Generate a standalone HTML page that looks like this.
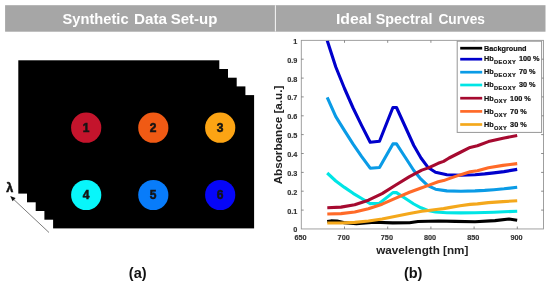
<!DOCTYPE html>
<html><head><meta charset="utf-8"><title>Synthetic data set-up and ideal spectral curves</title>
<style>
html,body{margin:0;padding:0;background:#fff;}
body{width:550px;height:285px;overflow:hidden;font-family:"Liberation Sans",sans-serif;}
svg{display:block;}
text{font-family:"Liberation Sans",sans-serif;font-weight:bold;}
.title{font-size:14.8px;fill:#fff;}
.tick{font-size:7.3px;fill:#333;stroke:#333;stroke-width:0.15px;}
.lg{font-size:7.3px;fill:#111;stroke:#111;stroke-width:0.2px;}
.sb{font-size:5.7px;fill:#111;letter-spacing:0.5px;stroke:#111;stroke-width:0.2px;}
.axl{font-size:11.7px;fill:#222;}
.cap{font-size:14.5px;fill:#111;}
.num{font-size:12px;fill:#141414;stroke:#141414;stroke-width:0.55px;}
.lam{font-size:12.5px;fill:#111;stroke:#111;stroke-width:0.5px;}
</style></head><body>
<svg width="550" height="285" viewBox="0 0 550 285">
<rect width="550" height="285" fill="#fff"/>
<!-- header bar -->
<rect x="5.1" y="5.2" width="540.4" height="26.5" fill="#A6A6A6"/>
<rect x="274.9" y="5.2" width="0.9" height="26.3" fill="#fff"/>
<text class="title" y="24.2"><tspan x="62.6" textLength="66.0" lengthAdjust="spacingAndGlyphs">Synthetic</tspan> <tspan x="134.0" textLength="33.0" lengthAdjust="spacingAndGlyphs">Data</tspan> <tspan x="170.8" textLength="46.6" lengthAdjust="spacingAndGlyphs">Set-up</tspan></text>
<text class="title" y="24.2"><tspan x="335.9" textLength="36.0" lengthAdjust="spacingAndGlyphs">Ideal</tspan> <tspan x="375.8" textLength="56.6" lengthAdjust="spacingAndGlyphs">Spectral</tspan> <tspan x="438.4" textLength="46.6" lengthAdjust="spacingAndGlyphs">Curves</tspan></text>
<!-- left panel -->
<rect x="18.3" y="60.3" width="201" height="133.3" fill="#000"/>
<rect x="27.0" y="69.0" width="201" height="133.3" fill="#000"/>
<rect x="35.7" y="77.7" width="201" height="133.3" fill="#000"/>
<rect x="44.4" y="86.4" width="201" height="133.3" fill="#000"/>
<rect x="53.1" y="95.1" width="201" height="133.3" fill="#000"/>
<circle cx="86.2" cy="127.7" r="15.1" fill="#C4142C"/>
<text class="num" x="86.0" y="131.8" text-anchor="middle">1</text>
<circle cx="153.3" cy="127.7" r="15.1" fill="#F05A14"/>
<text class="num" x="153.1" y="131.8" text-anchor="middle">2</text>
<circle cx="220.2" cy="127.7" r="15.1" fill="#FCA414"/>
<text class="num" x="220.0" y="131.8" text-anchor="middle">3</text>
<circle cx="86.2" cy="195.0" r="15.1" fill="#08F6FA"/>
<text class="num" x="86.0" y="199.1" text-anchor="middle">4</text>
<circle cx="153.3" cy="195.0" r="15.1" fill="#087CFA"/>
<text class="num" x="153.1" y="199.1" text-anchor="middle">5</text>
<circle cx="220.2" cy="195.0" r="15.1" fill="#0606F8"/>
<text class="num" x="220.0" y="199.1" text-anchor="middle">6</text>
<text class="lam" x="6.2" y="191.6">λ</text>
<line x1="49.0" y1="232.5" x2="12.2" y2="198.0" stroke="#444" stroke-width="0.7"/>
<polygon points="10.2,195.9 15.6,198.0 12.6,201.2" fill="#111"/>
<text class="cap" x="137.7" y="278.0" text-anchor="middle">(a)</text>
<!-- chart -->
<g clip-path="url(#cp)">
<polyline points="327.2,221.6 331.0,220.9 337.0,221.0 343.6,222.6 356.4,223.6 374.5,222.3 392.7,222.9 409.5,222.7 418.0,221.5 438.6,221.0 455.0,221.4 475.0,221.8 495.0,220.6 509.0,219.0 517.2,220.2" fill="none" stroke="#000000" stroke-width="3.10" stroke-linejoin="round" stroke-linecap="butt"/>
<polyline points="327.2,40.4 335.8,67.0 344.5,88.5 353.1,108.0 361.7,125.6 370.2,142.3 379.5,141.2 392.9,107.5 396.5,107.5 404.7,125.5 413.8,145.5 421.0,158.0 427.8,167.2 435.5,172.2 446.9,174.7 460.9,175.2 475.0,174.7 484.7,173.9 493.9,172.9 504.0,171.6 517.2,169.4" fill="none" stroke="#0000CC" stroke-width="3.10" stroke-linejoin="round" stroke-linecap="butt"/>
<polyline points="327.2,97.3 335.8,116.6 344.5,130.6 353.1,144.2 361.7,156.6 370.2,168.2 379.5,167.5 392.9,143.9 396.5,143.9 404.7,156.5 413.8,170.5 421.0,179.2 427.8,185.7 435.5,189.2 446.9,190.9 460.9,191.3 475.0,190.9 484.7,190.4 493.9,189.7 504.0,188.8 517.2,187.2" fill="none" stroke="#0A9BE6" stroke-width="3.10" stroke-linejoin="round" stroke-linecap="butt"/>
<polyline points="327.2,173.0 335.8,181.0 344.5,187.4 353.1,193.3 361.7,198.5 370.2,203.6 379.5,203.2 392.9,192.6 396.5,192.6 404.7,198.0 413.8,204.0 421.0,207.8 427.8,210.5 435.5,212.0 446.9,212.8 460.9,212.9 475.0,212.8 484.7,212.5 493.9,212.2 504.0,211.8 517.2,211.2" fill="none" stroke="#00E5E5" stroke-width="3.10" stroke-linejoin="round" stroke-linecap="butt"/>
<polyline points="327.3,207.7 341.0,207.1 354.7,204.8 368.4,200.2 382.1,193.6 395.8,185.0 409.5,176.6 421.8,170.1 428.4,167.9 438.2,163.3 443.6,161.4 449.1,158.0 460.0,152.5 470.1,147.4 477.4,145.8 488.4,141.6 503.0,138.2 517.2,135.6" fill="none" stroke="#A60A30" stroke-width="3.10" stroke-linejoin="round" stroke-linecap="butt"/>
<polyline points="327.3,214.0 341.0,213.6 354.7,212.0 368.4,208.8 382.1,204.2 395.8,198.1 409.5,192.3 421.8,187.7 428.4,185.4 438.2,181.8 443.6,180.6 449.1,178.6 460.0,174.9 470.1,171.8 477.4,170.7 488.4,167.8 503.0,165.4 517.2,163.6" fill="none" stroke="#FF6A28" stroke-width="3.10" stroke-linejoin="round" stroke-linecap="butt"/>
<polyline points="327.3,223.0 341.0,223.0 354.7,222.4 368.4,221.0 382.1,219.0 395.8,216.3 409.5,213.5 421.8,211.2 428.4,210.5 438.2,209.2 443.6,208.6 449.1,207.6 460.0,205.7 470.1,204.4 477.4,203.9 488.4,202.6 503.0,201.6 517.2,200.8" fill="none" stroke="#F4A81C" stroke-width="3.10" stroke-linejoin="round" stroke-linecap="butt"/>
</g>
<clipPath id="cp"><rect x="301.3" y="40.35" width="242.2" height="188.6"/></clipPath>
<rect x="301.3" y="40.35" width="242.2" height="188.6" fill="none" stroke="#969696" stroke-width="0.9"/>
<g stroke="#707070" stroke-width="0.8">
<line x1="301.3" y1="210.1" x2="303.7" y2="210.1"/>
<line x1="543.5" y1="210.1" x2="541.1" y2="210.1"/>
<line x1="301.3" y1="191.2" x2="303.7" y2="191.2"/>
<line x1="543.5" y1="191.2" x2="541.1" y2="191.2"/>
<line x1="301.3" y1="172.4" x2="303.7" y2="172.4"/>
<line x1="543.5" y1="172.4" x2="541.1" y2="172.4"/>
<line x1="301.3" y1="153.5" x2="303.7" y2="153.5"/>
<line x1="543.5" y1="153.5" x2="541.1" y2="153.5"/>
<line x1="301.3" y1="134.6" x2="303.7" y2="134.6"/>
<line x1="543.5" y1="134.6" x2="541.1" y2="134.6"/>
<line x1="301.3" y1="115.8" x2="303.7" y2="115.8"/>
<line x1="543.5" y1="115.8" x2="541.1" y2="115.8"/>
<line x1="301.3" y1="96.9" x2="303.7" y2="96.9"/>
<line x1="543.5" y1="96.9" x2="541.1" y2="96.9"/>
<line x1="301.3" y1="78.1" x2="303.7" y2="78.1"/>
<line x1="543.5" y1="78.1" x2="541.1" y2="78.1"/>
<line x1="301.3" y1="59.2" x2="303.7" y2="59.2"/>
<line x1="543.5" y1="59.2" x2="541.1" y2="59.2"/>
<line x1="344.5" y1="228.9" x2="344.5" y2="226.5"/>
<line x1="344.5" y1="40.4" x2="344.5" y2="42.8"/>
<line x1="387.7" y1="228.9" x2="387.7" y2="226.5"/>
<line x1="387.7" y1="40.4" x2="387.7" y2="42.8"/>
<line x1="430.9" y1="228.9" x2="430.9" y2="226.5"/>
<line x1="430.9" y1="40.4" x2="430.9" y2="42.8"/>
<line x1="474.1" y1="228.9" x2="474.1" y2="226.5"/>
<line x1="474.1" y1="40.4" x2="474.1" y2="42.8"/>
<line x1="517.3" y1="228.9" x2="517.3" y2="226.5"/>
<line x1="517.3" y1="40.4" x2="517.3" y2="42.8"/>
</g>
<g class="tick">
<text x="297.4" y="232.3" text-anchor="end">0</text>
<text x="297.4" y="213.5" text-anchor="end">0.1</text>
<text x="297.4" y="194.6" text-anchor="end">0.2</text>
<text x="297.4" y="175.8" text-anchor="end">0.3</text>
<text x="297.4" y="156.9" text-anchor="end">0.4</text>
<text x="297.4" y="138.0" text-anchor="end">0.5</text>
<text x="297.4" y="119.2" text-anchor="end">0.6</text>
<text x="297.4" y="100.3" text-anchor="end">0.7</text>
<text x="297.4" y="81.5" text-anchor="end">0.8</text>
<text x="297.4" y="62.6" text-anchor="end">0.9</text>
<text x="297.4" y="43.7" text-anchor="end">1</text>
<text x="300.5" y="240.4" text-anchor="middle">650</text>
<text x="343.7" y="240.4" text-anchor="middle">700</text>
<text x="386.9" y="240.4" text-anchor="middle">750</text>
<text x="430.1" y="240.4" text-anchor="middle">800</text>
<text x="473.3" y="240.4" text-anchor="middle">850</text>
<text x="516.5" y="240.4" text-anchor="middle">900</text>
</g>
<rect x="457.2" y="41.2" width="84.4" height="91.2" fill="#fff" stroke="#969696" stroke-width="1"/>
<line x1="460.2" y1="48.2" x2="482.2" y2="48.2" stroke="#000000" stroke-width="2.7"/>
<text class="lg" x="484.0" y="50.8">Background</text>
<line x1="460.2" y1="59.2" x2="482.2" y2="59.2" stroke="#0000CC" stroke-width="2.7"/>
<text class="lg" x="484.0" y="61.2">Hb</text>
<text class="sb" x="493.9" y="63.9">DEOXY</text>
<text class="lg" x="518.9" y="61.2">100 %</text>
<line x1="460.2" y1="72.2" x2="482.2" y2="72.2" stroke="#0A9BE6" stroke-width="2.7"/>
<text class="lg" x="484.0" y="74.2">Hb</text>
<text class="sb" x="493.9" y="76.9">DEOXY</text>
<text class="lg" x="518.9" y="74.2">70 %</text>
<line x1="460.2" y1="85.0" x2="482.2" y2="85.0" stroke="#00E5E5" stroke-width="2.7"/>
<text class="lg" x="484.0" y="87.0">Hb</text>
<text class="sb" x="493.9" y="89.7">DEOXY</text>
<text class="lg" x="518.9" y="87.0">30 %</text>
<line x1="460.2" y1="98.2" x2="482.2" y2="98.2" stroke="#A60A30" stroke-width="2.7"/>
<text class="lg" x="484.0" y="100.5">Hb</text>
<text class="sb" x="493.9" y="103.4">OXY</text>
<text class="lg" x="510.1" y="100.5">100 %</text>
<line x1="460.2" y1="111.4" x2="482.2" y2="111.4" stroke="#FF6A28" stroke-width="2.7"/>
<text class="lg" x="484.0" y="113.7">Hb</text>
<text class="sb" x="493.9" y="116.6">OXY</text>
<text class="lg" x="510.1" y="113.7">70 %</text>
<line x1="460.2" y1="124.5" x2="482.2" y2="124.5" stroke="#F4A81C" stroke-width="2.7"/>
<text class="lg" x="484.0" y="126.8">Hb</text>
<text class="sb" x="493.9" y="129.7">OXY</text>
<text class="lg" x="510.1" y="126.8">30 %</text>
<text class="axl" x="422.3" y="254.2" text-anchor="middle">wavelength [nm]</text>
<text class="axl" transform="translate(282.0,135) rotate(-90)" text-anchor="middle">Absorbance [a.u.]</text>
<text class="cap" x="413.2" y="277.8" text-anchor="middle">(b)</text>
</svg>
</body></html>
